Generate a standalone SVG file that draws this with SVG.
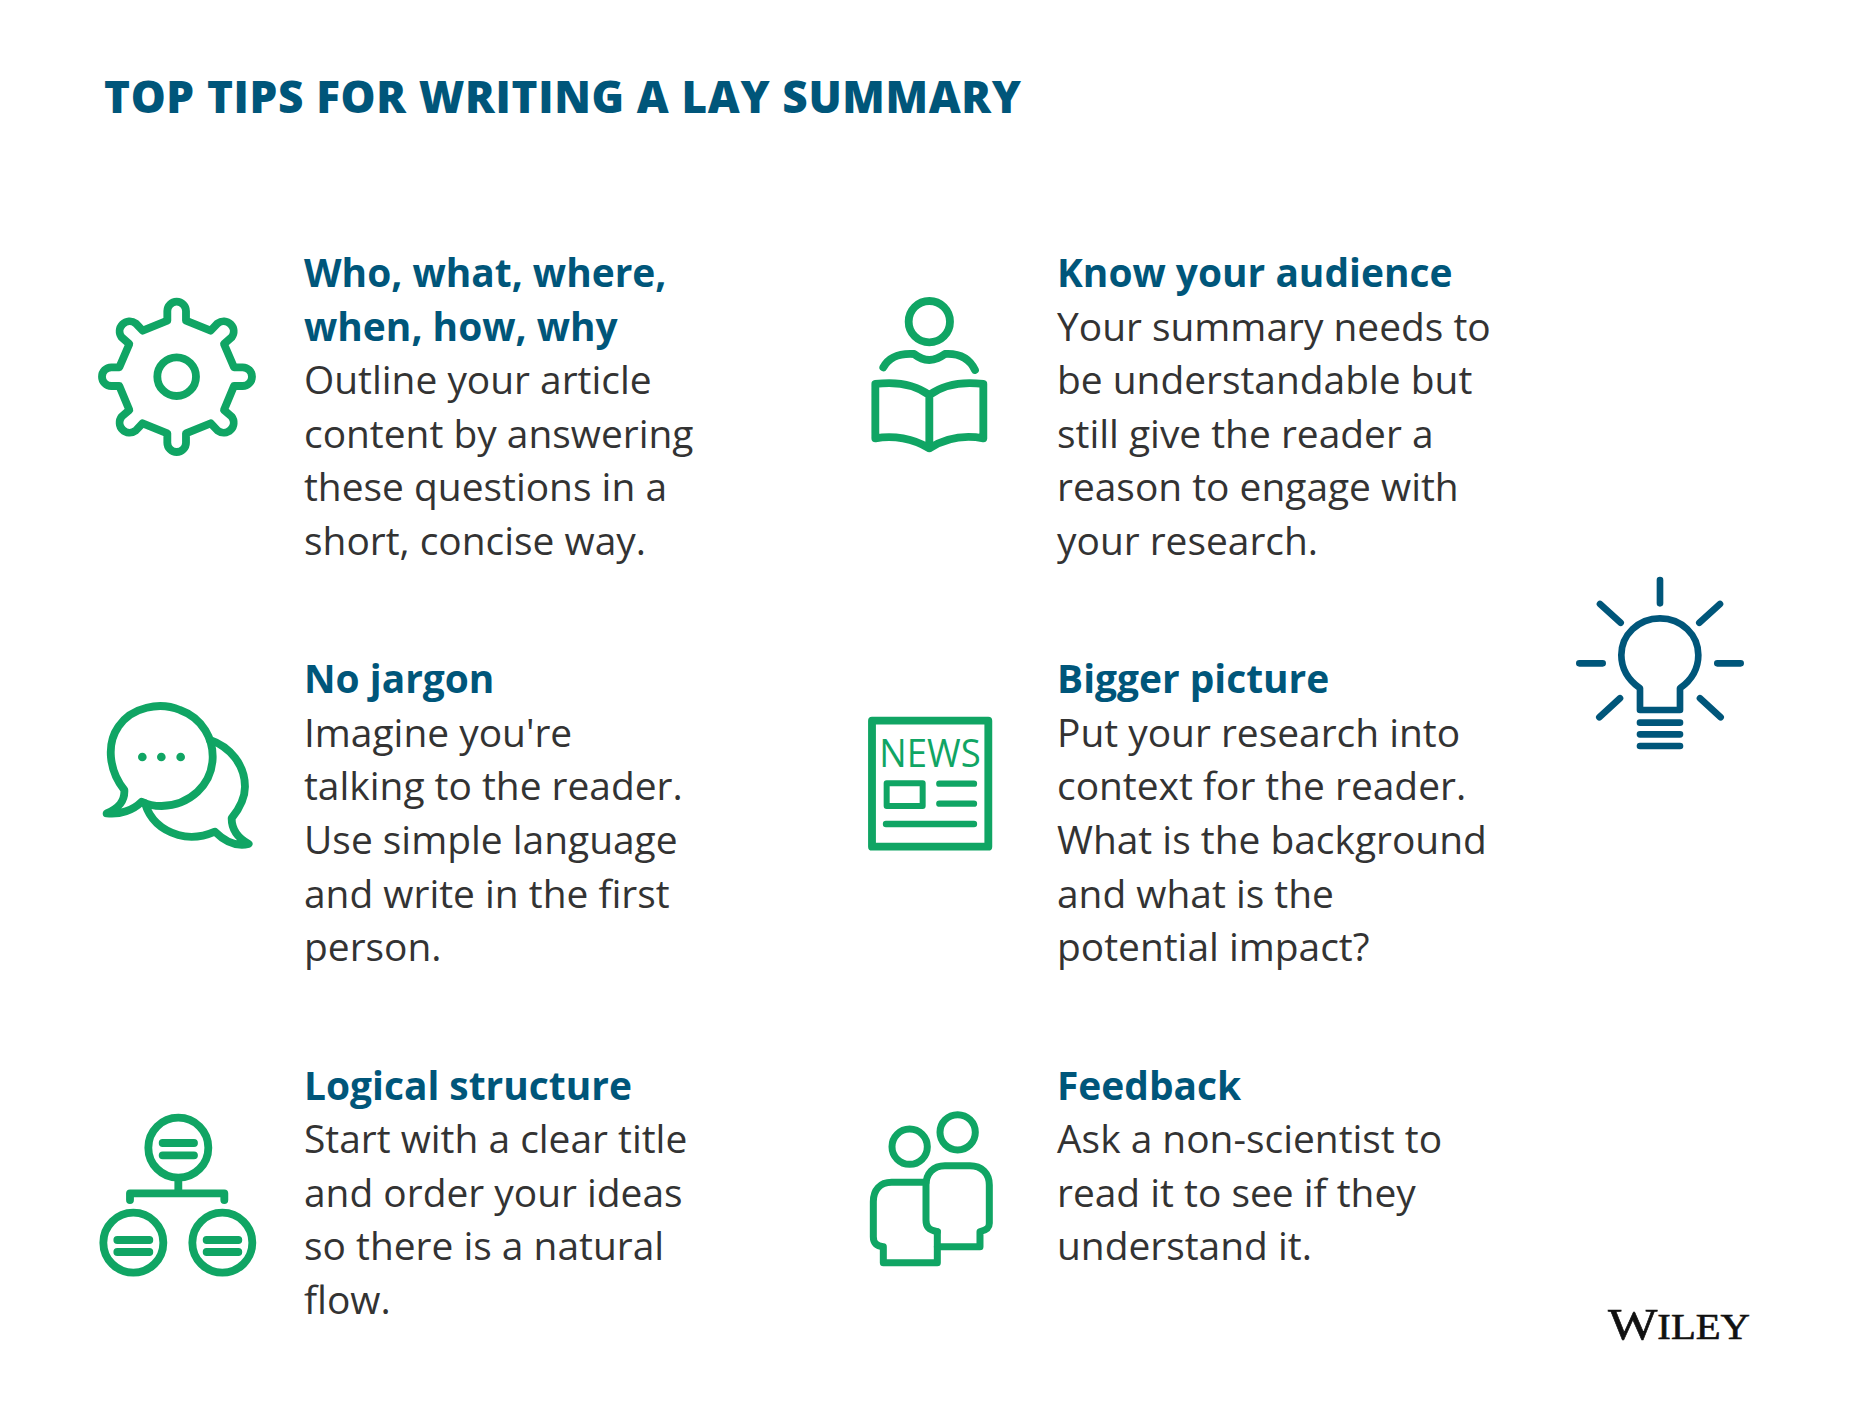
<svg xmlns="http://www.w3.org/2000/svg" width="1853" height="1402" viewBox="0 0 1853 1402">
<style>
.t{font-family:"Open Sans","Noto Sans",sans-serif;font-size:38.9px;fill:#333}
.h{font-weight:700;fill:#00567a}
.title{font-family:"Open Sans","Noto Sans",sans-serif;font-size:44px;font-weight:800;fill:#00567a}
.g{fill:none;stroke:#10a564;stroke-width:23.500;stroke-linecap:round;stroke-linejoin:round}
.b{fill:none;stroke:#00567a;stroke-width:20;stroke-linecap:round;stroke-linejoin:round}
</style>
<rect width="1853" height="1402" fill="#fff"/>
<text class="title" x="104" y="113" textLength="917" lengthAdjust="spacing">TOP TIPS FOR WRITING A LAY SUMMARY</text>
<g id="tip-who">
<text class="t h" x="304" y="287">Who, what, where,</text>
<text class="t h" x="304" y="340.500">when, how, why</text>
<text class="t" x="304" y="394">Outline your article</text>
<text class="t" x="304" y="447.500">content by answering</text>
<text class="t" x="304" y="501">these questions in a</text>
<text class="t" x="304" y="554.500">short, concise way.</text>
<g transform="translate(80 280) scale(.3333)" class="g">
<circle cx="290" cy="290" r="58"/>
<path d="M262 122V93A28 28 0 0 1 318 93V122L392 152L413 130A30 30 0 0 1 455 172L432 192L462 262H488A28 28 0 0 1 488 318H462L432 390L455 410A30 30 0 0 1 413 452L392 430L318 460V488A28 28 0 0 1 262 488V460L188 430L167 452A30 30 0 0 1 125 410L148 390L118 318H94A28 28 0 0 1 94 262H118L148 192L125 172A30 30 0 0 1 167 130L188 152Z"/>
</g>
</g>
<g id="tip-audience">
<text class="t h" x="1057" y="287">Know your audience</text>
<text class="t" x="1057" y="340.500">Your summary needs to</text>
<text class="t" x="1057" y="394">be understandable but</text>
<text class="t" x="1057" y="447.500">still give the reader a</text>
<text class="t" x="1057" y="501">reason to engage with</text>
<text class="t" x="1057" y="554.500">your research.</text>
<g transform="translate(840 280) scale(.3333)" class="g">
<circle cx="268" cy="125" r="62"/>
<path d="M130 262C150 225 190 220 222 222C240 235 250 240 268 240C288 240 300 232 315 222C350 220 385 228 405 270"/>
<path d="M106 312V475C160 465 220 475 268 505C316 475 375 465 430 475V312C375 305 316 310 268 345C220 310 160 305 106 312ZM268 345V505"/>
</g>
</g>
<g id="tip-jargon">
<text class="t h" x="304" y="693">No jargon</text>
<text class="t" x="304" y="747">Imagine you're</text>
<text class="t" x="304" y="800">talking to the reader.</text>
<text class="t" x="304" y="854">Use simple language</text>
<text class="t" x="304" y="907.500">and write in the first</text>
<text class="t" x="304" y="961">person.</text>
<g transform="translate(90 690) scale(.3333)" class="g">
<path d="M103 300C55 240 50 160 85 110C125 50 210 35 270 60C340 85 370 150 368 205C365 285 300 345 215 348C195 348 175 345 155 335C130 360 90 375 50 370C85 355 105 335 103 300Z"/>
<path d="M360 150C420 170 465 225 465 290C465 330 445 360 425 385C425 420 445 445 476 462C440 470 405 455 375 425C340 440 300 445 265 435C215 420 180 390 165 340"/>
<g fill="#10a564" stroke="none"><circle cx="157" cy="201" r="13"/><circle cx="214" cy="201" r="13"/><circle cx="272" cy="201" r="13"/></g>
</g>
</g>
<g id="tip-bigger">
<text class="t h" x="1057" y="693">Bigger picture</text>
<text class="t" x="1057" y="747">Put your research into</text>
<text class="t" x="1057" y="800">context for the reader.</text>
<text class="t" x="1057" y="854">What is the background</text>
<text class="t" x="1057" y="907.500">and what is the</text>
<text class="t" x="1057" y="961">potential impact?</text>
<g transform="translate(850 700) scale(.3333)" class="g">
<rect x="66" y="62" width="349" height="378"/>
<rect x="110" y="250" width="108" height="68" stroke-width="18"/>
<path d="M268 251H372M268 311H372M108 372H372" stroke-width="19"/>
<text x="88" y="201" font-family="Open Sans, Noto Sans, sans-serif" font-size="114" fill="#10a564" stroke="none" textLength="304" lengthAdjust="spacingAndGlyphs">NEWS</text>
</g>
</g>
<g id="tip-structure">
<text class="t h" x="304" y="1099.500">Logical structure</text>
<text class="t" x="304" y="1153">Start with a clear title</text>
<text class="t" x="304" y="1206.500">and order your ideas</text>
<text class="t" x="304" y="1260">so there is a natural</text>
<text class="t" x="304" y="1313.500">flow.</text>
<g transform="translate(90 1100) scale(.3333)" class="g">
<circle cx="265" cy="143" r="90"/><circle cx="130" cy="428" r="90"/><circle cx="397" cy="428" r="90"/>
<path d="M218 129H312M218 166H312M265 235V280M120 300V280H403V300M82 420H178M82 456H178M350 420H445M350 456H445"/>
</g>
</g>
<g id="tip-feedback">
<text class="t h" x="1057" y="1099.500">Feedback</text>
<text class="t" x="1057" y="1153">Ask a non-scientist to</text>
<text class="t" x="1057" y="1206.500">read it to see if they</text>
<text class="t" x="1057" y="1260">understand it.</text>
<g transform="translate(850 1100) scale(.3333)" class="g" style="stroke-width:21">
<circle cx="179" cy="140" r="53"/><circle cx="323" cy="97" r="53"/>
<path d="M262 395C235 390 228 380 228 360V255C228 220 250 197 285 197H360C395 197 418 220 418 255V370C418 380 415 390 390 395V440H262"/>
<path d="M228 247H125C90 247 70 270 70 305V410C70 430 80 438 100 440V488H262V395"/>
</g>
</g>
<g id="bulb" transform="translate(1560 560) scale(.3333)" class="b">
<path d="M240 450V385C205 360 184 325 184 285C184 225 235 175 300 175C365 175 415 225 415 285C415 325 395 360 360 385V450Z"/>
<path d="M300 60V130M120 132L182 188M480 132L418 188M58 310H128M472 310H542M180 415L118 472M420 415L482 472M240 488H360M240 523H360M240 558H360"/>
</g>
<text id="wiley" x="1608" y="1339" font-family="Liberation Serif,serif" font-size="45" fill="#111" stroke="#111" stroke-width=".6" textLength="142" lengthAdjust="spacingAndGlyphs"><tspan>W</tspan><tspan font-size="35">ILEY</tspan></text>
</svg>
